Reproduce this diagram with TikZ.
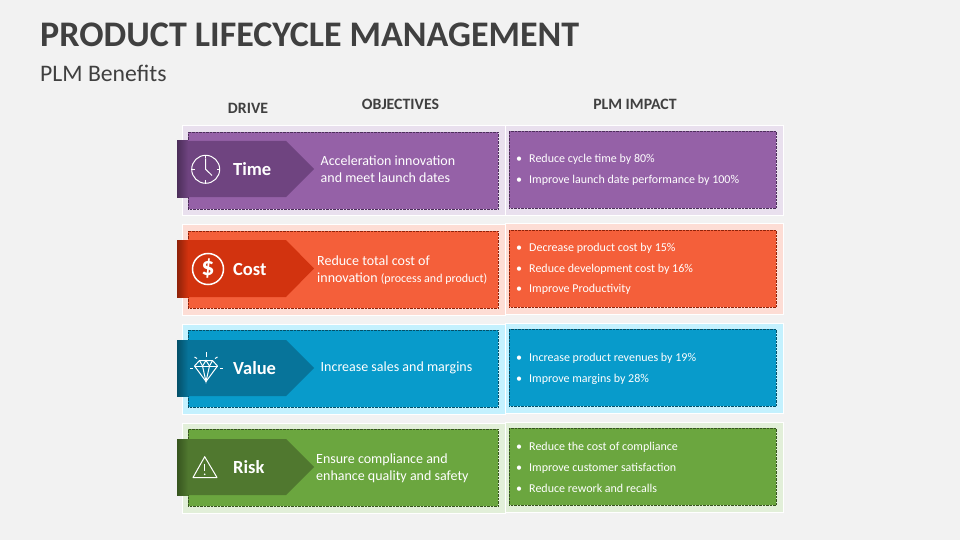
\documentclass[tikz,border=0pt]{standalone}
\usepackage{fontspec}
\setmainfont{Carlito}
\usepackage{xcolor}
\usetikzlibrary{positioning}

\definecolor{pageBg}{HTML}{F2F2F2}
\definecolor{inkDark}{HTML}{404040}
\definecolor{timeMain}{HTML}{9561A7}
\definecolor{timeDark}{HTML}{6F4480}
\definecolor{timeDeep}{HTML}{4C2E5A}
\definecolor{timePale}{HTML}{E9E0EE}
\definecolor{costMain}{HTML}{F45F3A}
\definecolor{costDark}{HTML}{D2330F}
\definecolor{costDeep}{HTML}{8F2209}
\definecolor{costPale}{HTML}{FDDDD5}
\definecolor{valueMain}{HTML}{089BCB}
\definecolor{valueDark}{HTML}{07749A}
\definecolor{valueDeep}{HTML}{045069}
\definecolor{valuePale}{HTML}{C4F1FE}
\definecolor{riskMain}{HTML}{6BA63F}
\definecolor{riskDark}{HTML}{50782F}
\definecolor{riskDeep}{HTML}{37551F}
\definecolor{riskPale}{HTML}{E2EFD9}

\newcommand{\blt}[1]{\makebox[13pt][l]{\textbullet}#1}

\tikzset{
  outerbox/.style={draw=white, line width=1pt, anchor=north west, inner sep=0pt},
  innerbox/.style={draw=#1, dash pattern=on 0.7pt off 0.7pt, line width=0.6pt, anchor=north west, inner sep=0pt},
  drivetext/.style={font=\fontsize{18.5}{20}\selectfont\bfseries, text=white, anchor=west, inner sep=0pt},
  objtext/.style={font=\fontsize{14}{17}\selectfont, text=white, anchor=west, align=left, inner sep=0pt},
  impacttext/.style={font=\fontsize{12}{13}\selectfont, text=white, anchor=west, inner sep=0pt},
  headtext/.style={font=\fontsize{15.8}{18}\selectfont\bfseries, text=inkDark, inner sep=0pt},
  iconline/.style={draw=white, line width=1pt},
}

\begin{document}
\begin{tikzpicture}[x=1pt, y=-1pt]
  \useasboundingbox (0,0) rectangle (960,540);
  \fill[pageBg] (0,0) rectangle (960,540);

  % Titles
  \node[anchor=west, inner sep=0pt, text=inkDark, font=\fontsize{36}{40}\selectfont\bfseries] (title) at (40,34.5) {PRODUCT LIFECYCLE MANAGEMENT};
  \node[anchor=west, inner sep=0pt, text=inkDark, font=\fontsize{23.7}{27}\selectfont] (subtitle) at (40,73.5) {PLM Benefits};
  \node[headtext] (headDrive) at (248,108) {DRIVE};
  \node[headtext] (headObj) at (400.5,104.5) {OBJECTIVES};
  \node[headtext] (headImpact) at (635,104.5) {PLM IMPACT};

  % Outer panels
  \node[outerbox, fill=timePale, minimum width=323pt, minimum height=90pt] (timeOuterL) at (181.5,125) {};
  \node[outerbox, fill=timePale, minimum width=278pt, minimum height=90pt] (timeOuterR) at (505,125) {};
  \node[outerbox, fill=costPale, minimum width=323pt, minimum height=91pt] (costOuterL) at (181.5,224) {};
  \node[outerbox, fill=costPale, minimum width=278pt, minimum height=91pt] (costOuterR) at (505,223) {};
  \node[outerbox, fill=valuePale, minimum width=323pt, minimum height=90pt] (valueOuterL) at (181.5,323.5) {};
  \node[outerbox, fill=valuePale, minimum width=278pt, minimum height=90pt] (valueOuterR) at (505,322.5) {};
  \node[outerbox, fill=riskPale, minimum width=323pt, minimum height=90pt] (riskOuterL) at (181.5,423) {};
  \node[outerbox, fill=riskPale, minimum width=278pt, minimum height=90pt] (riskOuterR) at (505,422) {};

  % Inner boxes
  \node[innerbox=timeDeep, fill=timeMain, minimum width=310pt, minimum height=77pt] (timeInnerL) at (188,132) {};
  \node[innerbox=timeDeep, fill=timeMain, minimum width=267pt, minimum height=77pt] (timeInnerR) at (509,131) {};
  \node[innerbox=costDeep, fill=costMain, minimum width=310pt, minimum height=77pt] (costInnerL) at (188,231) {};
  \node[innerbox=costDeep, fill=costMain, minimum width=267pt, minimum height=77pt] (costInnerR) at (509,230) {};
  \node[innerbox=valueDeep, fill=valueMain, minimum width=310pt, minimum height=77pt] (valueInnerL) at (188,330) {};
  \node[innerbox=valueDeep, fill=valueMain, minimum width=267pt, minimum height=77pt] (valueInnerR) at (509,329) {};
  \node[innerbox=riskDeep, fill=riskMain, minimum width=310pt, minimum height=77pt] (riskInnerL) at (188,429) {};
  \node[innerbox=riskDeep, fill=riskMain, minimum width=267pt, minimum height=77pt] (riskInnerR) at (509,428) {};

  % Arrow tags
  \fill[timeDark] (177,141) -- (286,141) -- (314,169) -- (286,197) -- (177,197) -- cycle;
  \shade[left color=timeDeep, right color=timeDark] (177,141) rectangle (188,197);
  \fill[costDark] (177,240) -- (286,240) -- (314,268.5) -- (286,297) -- (177,297) -- cycle;
  \shade[left color=costDeep, right color=costDark] (177,240) rectangle (188,297);
  \fill[valueDark] (177,340) -- (286,340) -- (314,368) -- (286,396) -- (177,396) -- cycle;
  \shade[left color=valueDeep, right color=valueDark] (177,340) rectangle (188,396);
  \fill[riskDark] (177,439) -- (286,439) -- (314,467) -- (286,495) -- (177,495) -- cycle;
  \shade[left color=riskDeep, right color=riskDark] (177,439) rectangle (188,495);

  % Clock icon
  \draw[iconline] (205.7,169.3) circle (14);
  \draw[iconline] (205.7,155.3) -- (205.7,158.5);
  \draw[iconline] (205.7,183.3) -- (205.7,180.1);
  \draw[iconline] (191.7,169.3) -- (194.9,169.3);
  \draw[iconline] (219.7,169.3) -- (216.5,169.3);
  \draw[iconline] (205.7,158.5) -- (205.7,169.3) -- (212,175.5);

  % Dollar icon
  \draw[white, line width=1.5pt] (208,269) circle (15.5);
  \node[inner sep=0pt, text=white, font=\fontsize{26}{28}\selectfont\bfseries] (dollar) at (208,269) {\$};

  % Diamond icon
  \draw[iconline, line join=round] (194.5,366) -- (199.5,360.5) -- (212.5,360.5) -- (217.5,366) -- (206,381.5) -- cycle;
  \draw[iconline] (194.5,366) -- (217.5,366);
  \draw[iconline] (199.5,360.5) -- (202.5,366) -- (206,381.5) -- (209.5,366) -- (212.5,360.5);
  \draw[iconline] (202.5,366) -- (206,360.5) -- (209.5,366);
  \draw[iconline] (206,352) -- (206,356.5);
  \draw[iconline] (194.5,357) -- (197,358.5);
  \draw[iconline] (217.5,357) -- (215,358.5);
  \draw[iconline] (190,368) -- (192.5,368);
  \draw[iconline] (220,368) -- (222.5,368);

  % Warning icon
  \draw[iconline, line join=round] (204.7,456.7) -- (217,477.5) -- (193,477.5) -- cycle;
  \draw[iconline] (204.7,463.5) -- (204.7,471);
  \fill[white] (204.7,474.3) circle (0.9);

  % Drive labels
  \node[drivetext] (timeLabel) at (233,169.5) {Time};
  \node[drivetext] (costLabel) at (233,269.5) {Cost};
  \node[drivetext] (valueLabel) at (233,368.5) {Value};
  \node[drivetext] (riskLabel) at (233,467.5) {Risk};

  % Objectives
  \node[objtext] (timeObj) at (320.5,169) {Acceleration innovation\\and meet launch dates};
  \node[objtext] (costObj) at (317,270) {Reduce total cost of\\innovation {\fontsize{12}{13}\selectfont(process and product)}};
  \node[objtext] (valueObj) at (320.5,367.5) {Increase sales and margins};
  \node[objtext] (riskObj) at (316,468) {Ensure compliance and\\enhance quality and safety};

  % Impact lines
  \node[impacttext] (timeA) at (516,159) {\blt{Reduce cycle time by 80\%}};
  \node[impacttext] (timeB) at (516,180) {\blt{Improve launch date performance by 100\%}};
  \node[impacttext] (costA) at (516,248) {\blt{Decrease product cost by 15\%}};
  \node[impacttext] (costB) at (516,269) {\blt{Reduce development cost by 16\%}};
  \node[impacttext] (costC) at (516,289) {\blt{Improve Productivity}};
  \node[impacttext] (valueA) at (516,358) {\blt{Increase product revenues by 19\%}};
  \node[impacttext] (valueB) at (516,379) {\blt{Improve margins by 28\%}};
  \node[impacttext] (riskA) at (516,447) {\blt{Reduce the cost of compliance}};
  \node[impacttext] (riskB) at (516,468) {\blt{Improve customer satisfaction}};
  \node[impacttext] (riskC) at (516,488) {\blt{Reduce rework and recalls}};
\end{tikzpicture}
\end{document}
